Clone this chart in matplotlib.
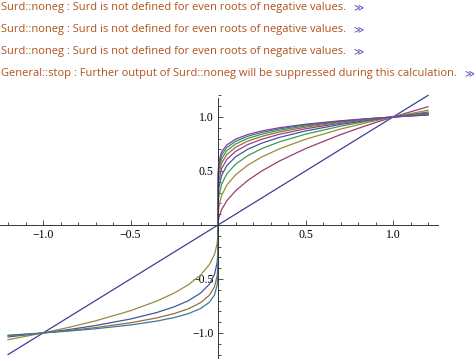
import matplotlib
matplotlib.use("Agg")
import matplotlib.pyplot as plt

# message lines printed above the plot
messages = [
    "Surd::noneg : Surd is not defined for even roots of negative values.",
    "Surd::noneg : Surd is not defined for even roots of negative values.",
    "Surd::noneg : Surd is not defined for even roots of negative values.",
    "General::stop : Further output of Surd::noneg will be suppressed during this calculation.",
]

# n = 1 (straight line)
x_line = [-1.2, 1.2]
y_line = [-1.2, 1.2]

# sample points, x >= 0
x_pos = [0, 0.001, 0.005, 0.02, 0.05, 0.1, 0.17, 0.25, 0.35, 0.5, 0.7, 0.85, 1.0, 1.2]
pos_n2 = [0, 0.0316, 0.0707, 0.1414, 0.2236, 0.3162, 0.4123, 0.5, 0.5916, 0.7071, 0.8367, 0.922, 1, 1.0954]
pos_n3 = [0, 0.1, 0.171, 0.2714, 0.3684, 0.4642, 0.554, 0.63, 0.7047, 0.7937, 0.8879, 0.9473, 1, 1.0627]
pos_n4 = [0, 0.1778, 0.2659, 0.3761, 0.4729, 0.5623, 0.6421, 0.7071, 0.7691, 0.8409, 0.9147, 0.9602, 1, 1.0466]
pos_n5 = [0, 0.2512, 0.3466, 0.4573, 0.5493, 0.631, 0.7016, 0.7579, 0.8106, 0.8706, 0.9311, 0.968, 1, 1.0371]
pos_n6 = [0, 0.3162, 0.4135, 0.521, 0.607, 0.6813, 0.7443, 0.7937, 0.8395, 0.8909, 0.9422, 0.9733, 1, 1.0309]
pos_n7 = [0, 0.3728, 0.4691, 0.5718, 0.6518, 0.7197, 0.7764, 0.8203, 0.8607, 0.9057, 0.9503, 0.9771, 1, 1.0264]
pos_n8 = [0, 0.4217, 0.5157, 0.6132, 0.6876, 0.7499, 0.8013, 0.8409, 0.877, 0.917, 0.9564, 0.9799, 1, 1.0231]
pos_n9 = [0, 0.4642, 0.5551, 0.6475, 0.7169, 0.7743, 0.8213, 0.8573, 0.8899, 0.9259, 0.9611, 0.9821, 1, 1.0205]
pos_n10 = [0, 0.5012, 0.5887, 0.6763, 0.7411, 0.7943, 0.8376, 0.8706, 0.9003, 0.933, 0.9649, 0.9839, 1, 1.0184]

# sample points, x <= 0 (odd roots only)
x_neg = [-1.2, -1.0, -0.85, -0.7, -0.5, -0.35, -0.25, -0.17, -0.1, -0.05, -0.02, -0.005, -0.001, 0]
neg_n3 = [-1.0627, -1, -0.9473, -0.8879, -0.7937, -0.7047, -0.63, -0.554, -0.4642, -0.3684, -0.2714, -0.171, -0.1, 0]
neg_n5 = [-1.0371, -1, -0.968, -0.9311, -0.8706, -0.8106, -0.7579, -0.7016, -0.631, -0.5493, -0.4573, -0.3466, -0.2512, 0]
neg_n7 = [-1.0264, -1, -0.9771, -0.9503, -0.9057, -0.8607, -0.8203, -0.7764, -0.7197, -0.6518, -0.5718, -0.4691, -0.3728, 0]
neg_n9 = [-1.0205, -1, -0.9821, -0.9611, -0.9259, -0.8899, -0.8573, -0.8213, -0.7743, -0.7169, -0.6475, -0.5551, -0.4642, 0]

# old Mathematica default plot colours
colors = ["#3f3d99", "#993d71", "#998b3d", "#3d9956", "#3d5a99",
          "#993d90", "#996d3d", "#43993d", "#3d7999", "#833d99"]

W, H = 474, 361
fig = plt.figure(figsize=(W / 100, H / 100), dpi=100)
renderer = fig.canvas.get_renderer()

msg_color = "#b0521e"
for i, m in enumerate(messages):
    yy = 1 - (7.5 + i * 22) / H
    t = fig.text(1 / W, yy, m, fontsize=8.0, family="Open Sans",
                 color=msg_color, va="center", ha="left")
    bb = t.get_window_extent(renderer)
    fig.text((bb.x1 + 7) / W, yy, "\u226b", fontsize=7, color="#4a4ab0",
             family="DejaVu Sans", va="center", ha="left")

# axes placed so that data->pixel matches the original
ax = fig.add_axes([0, (H - 357.8) / H, 438 / W, (357.8 - 94.3) / H])
ax.set_xlim(-1.246, 1.257)
ax.set_ylim(-1.23, 1.21)

lw = 0.9
ax.plot(x_line, y_line, color=colors[0], lw=lw)
pos = [pos_n2, pos_n3, pos_n4, pos_n5, pos_n6, pos_n7, pos_n8, pos_n9, pos_n10]
for k, ys in enumerate(pos):
    ax.plot(x_pos, ys, color=colors[k + 1], lw=lw)
for n, ys in zip([3, 5, 7, 9], [neg_n3, neg_n5, neg_n7, neg_n9]):
    ax.plot(x_neg, ys, color=colors[n - 1], lw=lw)

for s in ["top", "right"]:
    ax.spines[s].set_visible(False)
ax.spines["left"].set_position(("data", 0))
ax.spines["bottom"].set_position(("data", 0))
ax.spines["left"].set_bounds(-1.23, 1.18)
for s in ["left", "bottom"]:
    ax.spines[s].set_linewidth(0.7)
    ax.spines[s].set_color("#333333")

major = [-1.0, -0.5, 0.5, 1.0]
labels = ["\u22121.0", "\u22120.5", "0.5", "1.0"]
minor = [v / 10 for v in range(-12, 13) if v % 5 != 0]
ax.set_xticks(major)
ax.set_xticklabels(labels)
ax.set_yticks(major)
ax.set_yticklabels(labels)
ax.set_xticks(minor, minor=True)
ax.set_yticks(minor, minor=True)
ax.tick_params(which="both", direction="in", color="#333333", width=0.6,
               labelsize=8.5, pad=3)
ax.tick_params(which="major", length=3.5)
ax.tick_params(which="minor", length=2)
for lab in ax.get_xticklabels() + ax.get_yticklabels():
    lab.set_family("Liberation Serif")
ax.patch.set_alpha(0)

fig.savefig("out.png", dpi=100)
